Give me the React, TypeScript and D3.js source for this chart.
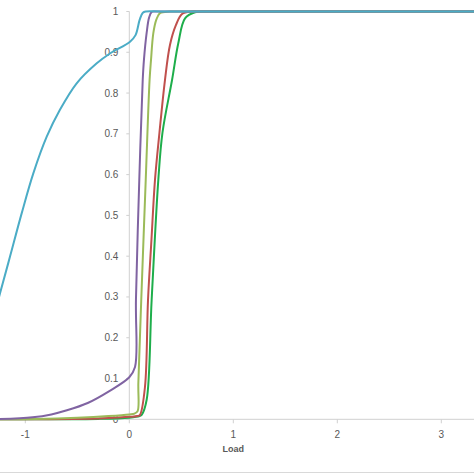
import * as d3 from "d3";
import * as React from "react";

// tick values
const xTicks = [-1, 0, 1, 2, 3];
const yTicks = [0, 0.1, 0.2, 0.3, 0.4, 0.5, 0.6, 0.7, 0.8, 0.9, 1];

// series (load, cumulative probability)
const cyanLoad = [-1.3, -1.243, -1.147, -1.035, -0.923, -0.794, -0.667, -0.506, -0.313, -0.186, 0.007, 0.06, 0.1, 0.13, 0.16, 0.3, 1, 3.4];
const cyanProb = [0.255, 0.309, 0.399, 0.505, 0.603, 0.693, 0.759, 0.824, 0.873, 0.897, 0.926, 0.942, 0.98, 0.997, 1, 1, 1, 1];

const purpleLoad = [-1.3, -0.93, -0.75, -0.6, -0.4, -0.2, 0, 0.055, 0.064, 0.096, 0.129, 0.141, 0.167, 0.19, 0.215, 0.25, 0.4, 1, 3.4];
const purpleProb = [0, 0.005, 0.012, 0.022, 0.04, 0.068, 0.103, 0.128, 0.293, 0.587, 0.832, 0.882, 0.948, 0.985, 0.999, 1, 1, 1, 1];

const oliveLoad = [-1.3, -0.9, -0.5, -0.2, 0, 0.05, 0.08, 0.087, 0.115, 0.158, 0.195, 0.209, 0.231, 0.26, 0.295, 0.39, 0.5, 1, 3.4];
const oliveProb = [0, 0.001, 0.004, 0.008, 0.012, 0.014, 0.02, 0.089, 0.293, 0.587, 0.832, 0.882, 0.947, 0.98, 0.996, 1, 1, 1, 1];

const redLoad = [-1.3, -0.3, 0, 0.08, 0.103, 0.151, 0.18, 0.213, 0.247, 0.29, 0.343, 0.391, 0.449, 0.507, 0.603, 0.7, 1.2, 3.4];
const redProb = [0, 0.002, 0.006, 0.008, 0.011, 0.08, 0.293, 0.44, 0.587, 0.703, 0.832, 0.918, 0.967, 0.994, 1, 1, 1, 1];

const greenLoad = [-1.3, -0.3, 0, 0.1, 0.119, 0.167, 0.215, 0.279, 0.319, 0.411, 0.471, 0.536, 0.632, 0.728, 0.85, 1.3, 3.4];
const greenProb = [0, 0.001, 0.004, 0.008, 0.011, 0.048, 0.293, 0.587, 0.703, 0.832, 0.922, 0.983, 0.998, 1, 1, 1, 1];

const series = [
    { name: "green", color: "#1eae4b", load: greenLoad, prob: greenProb },
    { name: "red", color: "#c0504d", load: redLoad, prob: redProb },
    { name: "olive", color: "#9bbb59", load: oliveLoad, prob: oliveProb },
    { name: "purple", color: "#8064a2", load: purpleLoad, prob: purpleProb },
    { name: "cyan", color: "#4bacc6", load: cyanLoad, prob: cyanProb },
];

const W = 474;
const H = 474;

export default function App() {
    const x = d3.scaleLinear().domain([-129.3 / 104, (W - 129.3) / 104]).range([0, W]);
    const y = d3.scaleLinear().domain([0, 1]).range([419.3, 11.5]);

    const line = d3.line<[number, number]>()
        .x(d => x(d[0]))
        .y(d => y(Math.min(d[1], 1)))
        .curve(d3.curveCatmullRom.alpha(0.5));

    const font = "'Liberation Sans', Arial, sans-serif";
    const axisColor = "#d0d0d0";
    const textColor = "#595959";

    return (
        <svg width={W} height={H} style={{ position: "absolute", left: 0, top: 0, background: "#fff" }}>
            <defs>
                <clipPath id="plot">
                    <rect x={0} y={0} width={W} height={H} />
                </clipPath>
            </defs>

            {/* y axis at load = 0 */}
            <line x1={x(0)} x2={x(0)} y1={y(1)} y2={y(0)} stroke={axisColor} />
            {yTicks.map(t => (
                <g key={t}>
                    <line x1={x(0) - 3} x2={x(0)} y1={y(t)} y2={y(t)} stroke={axisColor} />
                    <text x={x(0) - 11} y={y(t)} dy="0.35em" textAnchor="end"
                        fontFamily={font} fontSize={10} fill={textColor}>{t}</text>
                </g>
            ))}

            {/* x axis at prob = 0 */}
            <line x1={0} x2={W} y1={y(0)} y2={y(0)} stroke={axisColor} />
            {xTicks.map(t => (
                <g key={t}>
                    <line x1={x(t)} x2={x(t)} y1={y(0)} y2={y(0) + 4} stroke={axisColor} />
                    <text x={x(t)} y={434} dy="0.35em" textAnchor="middle"
                        fontFamily={font} fontSize={10} fill={textColor}>{t}</text>
                </g>
            ))}
            <text x={x(1)} y={449} dy="0.35em" textAnchor="middle"
                fontFamily={font} fontSize={9} fontWeight="bold" fill={textColor}>Load</text>

            {/* lower frame edge */}
            <line x1={0} x2={W} y1={472.5} y2={472.5} stroke="#d9d9d9" />

            <g clipPath="url(#plot)">
                {series.map(s => (
                    <path key={s.name}
                        d={line(s.load.map((l, i) => [l, s.prob[i]] as [number, number])) ?? ""}
                        fill="none" stroke={s.color} strokeWidth={2} strokeLinejoin="round" />
                ))}
            </g>
        </svg>
    );
}
